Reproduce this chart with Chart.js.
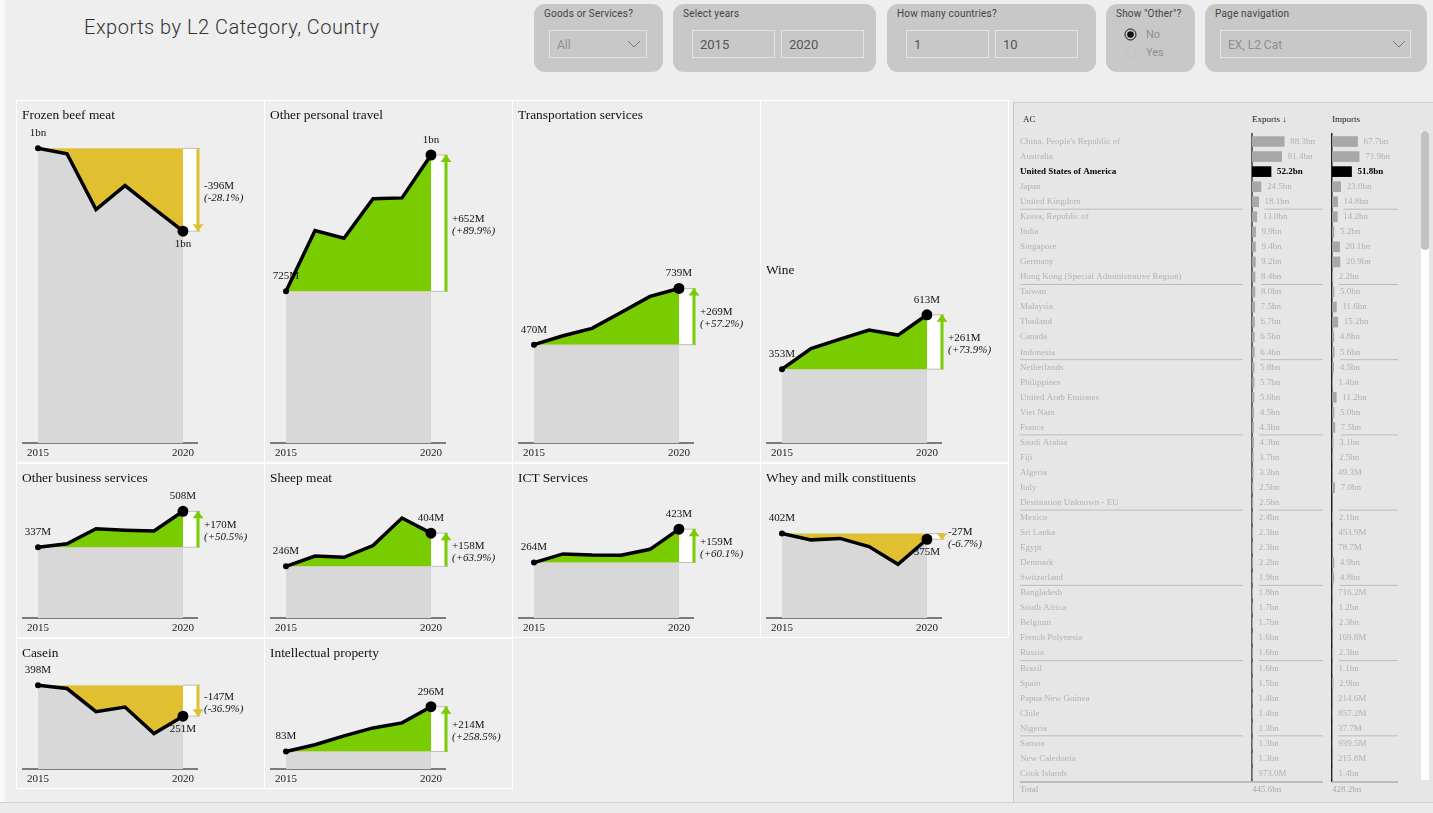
<!DOCTYPE html>
<html>
<head>
<meta charset="utf-8">
<title>Exports by L2 Category, Country</title>
<script src="https://cdn.jsdelivr.net/npm/chart.js@4"></script>
<style>
html, body { margin: 0; padding: 0; }
body { width: 1433px; height: 813px; background: #eeeeee; overflow: hidden; position: relative; font-family: Roboto, sans-serif; }
.abs { position: absolute; }
#leftstrip { left: 0; top: 0; width: 5px; height: 802px; background: #f8f8f8; }
#bottomstrip { left: 0; top: 802px; width: 1433px; height: 11px; background: #ebebeb; border-top: 1px solid #d2d2d2; box-sizing: border-box; }
#title { left: 84px; top: 15px; font-size: 20px; font-weight: 300; color: #333; letter-spacing: 0.5px; white-space: nowrap; }
.slicer { background: #c8c8c8; border-radius: 11px; top: 4px; height: 68px; }
.slabel { top: 8px; font-size: 10px; color: #444; white-space: nowrap; letter-spacing: 0.2px; }
.sinput { top: 30px; height: 28px; box-sizing: border-box; border: 1.5px solid #e4e4e4; font-size: 13px; color: #555; line-height: 28px; padding-left: 7px; }
.dim { color: #8f8f8f; font-size: 12px; }
.ptitle { font-family: "Liberation Serif", serif; font-size: 13.4px; color: #111; white-space: nowrap; }
.panel { border: 1px solid #fff; box-sizing: border-box; }
#tablebox { left: 1013px; top: 102px; width: 420px; height: 700px; background: #e6e6e6; border-left: 1px solid #cacaca; border-top: 1px solid #cacaca; box-sizing: border-box; }
.th { font-family: "Liberation Serif", serif; font-size: 9px; top: 114px; color: #222; white-space: nowrap; }
.tot { font-family: "Liberation Serif", serif; font-size: 9px; top: 784px; color: #aaa; white-space: nowrap; }
canvas { position: absolute; }
</style>
</head>
<body>
<div class="abs" id="leftstrip"></div>
<div class="abs" id="bottomstrip"></div>
<div class="abs" id="title">Exports by L2 Category, Country</div>

<div class="abs slicer" style="left:534px;width:129px"></div>
<div class="abs slabel" style="left:544px">Goods or Services?</div>
<div class="abs sinput dim" style="left:549px;width:98px">All</div>
<svg class="abs" style="left:627px;top:40px" width="14" height="9"><polyline points="1,1 7,7 13,1" fill="none" stroke="#777"/></svg>

<div class="abs slicer" style="left:673px;width:203px"></div>
<div class="abs slabel" style="left:683px">Select years</div>
<div class="abs sinput" style="left:692px;width:83px">2015</div>
<div class="abs sinput" style="left:781px;width:83px">2020</div>

<div class="abs slicer" style="left:887px;width:209px"></div>
<div class="abs slabel" style="left:897px">How many countries?</div>
<div class="abs sinput" style="left:906px;width:83px">1</div>
<div class="abs sinput" style="left:995px;width:83px">10</div>

<div class="abs slicer" style="left:1106px;width:89px"></div>
<div class="abs slabel" style="left:1116px">Show "Other"?</div>
<svg class="abs" style="left:1123px;top:27px" width="15" height="32"><circle cx="7.5" cy="7.5" r="5.5" fill="none" stroke="#111"/><circle cx="7.5" cy="7.5" r="3.3" fill="#111"/><circle cx="7.5" cy="25" r="5.5" fill="none" stroke="#c2c2c2"/></svg>
<div class="abs dim" style="left:1146px;top:28px;font-size:11px">No</div>
<div class="abs dim" style="left:1146px;top:46px;font-size:11px">Yes</div>

<div class="abs slicer" style="left:1205px;width:222px"></div>
<div class="abs slabel" style="left:1215px">Page navigation</div>
<div class="abs sinput dim" style="left:1220px;width:191px">EX, L2 Cat</div>
<svg class="abs" style="left:1392px;top:40px" width="14" height="9"><polyline points="1,1 7,7 13,1" fill="none" stroke="#777"/></svg>

<div class="abs" id="panels"></div>

<div class="abs" id="tablebox"></div>
<div class="abs" style="left:1421px;top:131px;width:8px;height:649px;background:#fff"></div>
<div class="abs" style="left:1421px;top:131px;width:8px;height:119px;background:#c2c2c2;border-radius:4px"></div>
<div class="abs th" style="left:1023px">AC</div>
<div class="abs th" style="left:1252px">Exports ↓</div>
<div class="abs th" style="left:1332px">Imports</div>
<canvas id="exportsChart" width="310" height="659" style="left:1020px;top:127.5px"></canvas>
<canvas id="importsChart" width="90" height="659" style="left:1325px;top:127.5px"></canvas>
<div class="abs tot" style="left:1020px">Total</div>
<div class="abs tot" style="left:1252px">445.6bn</div>
<div class="abs tot" style="left:1332px">428.2bn</div>

<script>
const years = ["2015", "2016", "2017", "2018", "2019", "2020"]

const categories = ["Frozen beef meat", "Other personal travel", "Transportation services", "Wine",
    "Other business services", "Sheep meat", "ICT Services", "Whey and milk constituents",
    "Casein", "Intellectual property"]

// values in millions
const frozenBeef = [1409, 1383, 1116, 1231, 1121, 1013]
const personalTravel = [725, 1016, 979, 1168, 1172, 1377]
const transportation = [470, 513, 548, 624, 701, 739]
const wine = [353, 452, 497, 540, 516, 613]
const businessServices = [337, 353, 425, 418, 414, 508]
const sheepMeat = [246, 295, 289, 345, 476, 404]
const ictServices = [264, 305, 300, 299, 327, 423]
const wheyMilk = [402, 372, 379, 340, 256, 375]
const casein = [398, 382, 272, 294, 168, 251]
const intellectualProperty = [83, 115, 157, 195, 219, 296]
const series = [frozenBeef, personalTravel, transportation, wine, businessServices, sheepMeat, ictServices, wheyMilk, casein, intellectualProperty]

const startLabels = ["1bn", "725M", "470M", "353M", "337M", "246M", "264M", "402M", "398M", "83M"]
const endLabels = ["1bn", "1bn", "739M", "613M", "508M", "404M", "423M", "375M", "251M", "296M"]
const deltaLabels = ["-396M", "+652M", "+269M", "+261M", "+170M", "+158M", "+159M", "-27M", "-147M", "+214M"]
const pctLabels = ["(-28.1%)", "(+89.9%)", "(+57.2%)", "(+73.9%)", "(+50.5%)", "(+63.9%)", "(+60.1%)", "(-6.7%)", "(-36.9%)", "(+258.5%)"]

const countries = ["China, People's Republic of", "Australia", "United States of America", "Japan", "United Kingdom",
    "Korea, Republic of", "India", "Singapore", "Germany", "Hong Kong (Special Administrative Region)",
    "Taiwan", "Malaysia", "Thailand", "Canada", "Indonesia",
    "Netherlands", "Philippines", "United Arab Emirates", "Viet Nam", "France",
    "Saudi Arabia", "Fiji", "Algeria", "Italy", "Destination Unknown - EU",
    "Mexico", "Sri Lanka", "Egypt", "Denmark", "Switzerland",
    "Bangladesh", "South Africa", "Belgium", "French Polynesia", "Russia",
    "Brazil", "Spain", "Papua New Guinea", "Chile", "Nigeria",
    "Samoa", "New Caledonia", "Cook Islands"]
// billions
const exportsBn = [88.3, 81.4, 52.2, 24.5, 18.1, 13.0, 9.9, 9.4, 9.2, 8.4, 8.0, 7.5, 6.7, 6.5, 6.4, 5.8, 5.7, 5.6, 4.5, 4.3, 4.3, 3.7, 3.3, 2.5, 2.5, 2.4, 2.3, 2.3, 2.2, 1.9, 1.8, 1.7, 1.7, 1.6, 1.6, 1.6, 1.5, 1.4, 1.4, 1.3, 1.3, 1.3, 0.973]
const importsBn = [67.7, 71.9, 51.8, 23.0, 14.8, 14.2, 5.2, 20.1, 20.9, 2.2, 5.0, 11.6, 15.2, 4.8, 5.6, 4.5, 1.4, 11.2, 5.0, 7.5, 3.1, 2.5, 0.0493, 7.0, null, 2.1, 0.4539, 0.0787, 4.9, 4.8, 0.7162, 1.2, 2.3, 0.1698, 2.3, 1.1, 2.9, 0.2146, 0.8572, 0.0377, 0.9395, 0.2158, 1.4]
const exportTexts = ["88.3bn", "81.4bn", "52.2bn", "24.5bn", "18.1bn", "13.0bn", "9.9bn", "9.4bn", "9.2bn", "8.4bn", "8.0bn", "7.5bn", "6.7bn", "6.5bn", "6.4bn", "5.8bn", "5.7bn", "5.6bn", "4.5bn", "4.3bn", "4.3bn", "3.7bn", "3.3bn", "2.5bn", "2.5bn", "2.4bn", "2.3bn", "2.3bn", "2.2bn", "1.9bn", "1.8bn", "1.7bn", "1.7bn", "1.6bn", "1.6bn", "1.6bn", "1.5bn", "1.4bn", "1.4bn", "1.3bn", "1.3bn", "1.3bn", "973.0M"]
const importTexts = ["67.7bn", "71.9bn", "51.8bn", "23.0bn", "14.8bn", "14.2bn", "5.2bn", "20.1bn", "20.9bn", "2.2bn", "5.0bn", "11.6bn", "15.2bn", "4.8bn", "5.6bn", "4.5bn", "1.4bn", "11.2bn", "5.0bn", "7.5bn", "3.1bn", "2.5bn", "49.3M", "7.0bn", "", "2.1bn", "453.9M", "78.7M", "4.9bn", "4.8bn", "716.2M", "1.2bn", "2.3bn", "169.8M", "2.3bn", "1.1bn", "2.9bn", "214.6M", "857.2M", "37.7M", "939.5M", "215.8M", "1.4bn"]

const GREEN = "#78cc00", YELLOW = "#e0c030", GREY = "#d8d8d8"
const SERIF = "'Liberation Serif', serif"

// page layout of the small multiples
const colLefts = [16, 264, 512, 760]
const rowTops = [100, 463, 638]
const rowHeights = [363, 175, 151]
const rowMax = [1640, 738, 622] // same px per million in every row
const panelWidth = 249
const axisHeight = 20

const panelsDiv = document.querySelector("#panels")

function text(ctx, str, x, y, align, font, color){
    ctx.font = font
    ctx.fillStyle = color
    ctx.textAlign = align
    ctx.textBaseline = "middle"
    ctx.fillText(str, x, y)
}

function addPanel(i, left, top, width, height, row){
    const box = document.createElement("div")
    box.className = "abs panel"
    box.style.cssText = `left:${left}px;top:${top}px;width:${width}px;height:${height}px`
    document.body.insertBefore(box, panelsDiv)

    const cv = document.createElement("canvas")
    cv.width = width
    cv.height = height
    cv.style.cssText = `left:${left}px;top:${top}px`
    document.body.insertBefore(cv, panelsDiv)

    const t = document.createElement("div")
    t.className = "abs ptitle"
    t.textContent = categories[i]
    // Wine's title sits just above its plot, not at the top of the panel
    const titleTop = categories[i] === "Wine" ? top + 162 : top + 7
    t.style.cssText = `left:${left + 6}px;top:${titleTop}px`
    document.body.insertBefore(t, panelsDiv)

    const values = series[i]
    const first = values[0], last = values[values.length - 1]
    const up = last >= first

    const deltaPlugin = {
        id: "delta",
        beforeDatasetsDraw(chart){
            const {ctx, chartArea: a, scales: {x, y}} = chart
            const xEnd = x.getPixelForValue(5)
            const y0 = y.getPixelForValue(first), y1 = y.getPixelForValue(last)
            ctx.save()
            ctx.fillStyle = "#fff"
            ctx.fillRect(xEnd, Math.min(y0, y1), 14, Math.abs(y1 - y0))
            ctx.strokeStyle = "#bdbdbd"
            ctx.lineWidth = 1
            ctx.beginPath()
            ctx.moveTo(xEnd, y0); ctx.lineTo(xEnd + 17, y0)
            ctx.moveTo(xEnd, y1); ctx.lineTo(xEnd + 17, y1)
            ctx.stroke()
            // base line runs past the plot on both sides
            ctx.strokeStyle = "#555"
            ctx.lineWidth = 1.5
            ctx.beginPath()
            ctx.moveTo(a.left - 16, a.bottom); ctx.lineTo(a.right + 15, a.bottom)
            ctx.stroke()
            ctx.restore()
        },
        // labels go over the fills but under the black line
        afterDatasetDraw(chart, args){
            if(args.index !== 1) return
            const {ctx, scales: {x, y}} = chart
            const xStart = x.getPixelForValue(0), xEnd = x.getPixelForValue(5)
            const y0 = y.getPixelForValue(first), y1 = y.getPixelForValue(last)
            const font = `11px ${SERIF}`
            ctx.save()
            text(ctx, startLabels[i], xStart, y0 - 15, "center", font, "#111")
            text(ctx, endLabels[i], xEnd, up ? y1 - 15 : y1 + 13, "center", font, "#111")

            const ax = xEnd + 15, color = up ? GREEN : YELLOW
            const head = Math.min(7, Math.abs(y1 - y0))
            const dir = up ? 1 : -1
            ctx.fillStyle = color
            ctx.fillRect(ax - 1.5, Math.min(y0, y1), 3, Math.abs(y1 - y0))
            ctx.beginPath()
            ctx.moveTo(ax, y1)
            ctx.lineTo(ax - 5.5, y1 + dir * head)
            ctx.lineTo(ax + 5.5, y1 + dir * head)
            ctx.closePath()
            ctx.fill()

            const mid = (y0 + y1) / 2
            text(ctx, deltaLabels[i], ax + 6, mid - 4, "left", font, "#111")
            text(ctx, pctLabels[i], ax + 6, mid + 8, "left", `italic ${font}`, "#111")
            ctx.restore()
        }
    }

    new Chart(cv, {
        type: "line",
        data: {
            labels: years,
            datasets: [
                {data: values, borderColor: "#000", borderWidth: 3.5, tension: 0, fill: false,
                    pointRadius: [3, 0, 0, 0, 0, 5.5], pointBackgroundColor: "#000", pointBorderWidth: 0, borderJoinStyle: "miter"},
                {data: values, borderWidth: 0, pointRadius: 0, tension: 0,
                    fill: {target: {value: first}, above: GREEN, below: YELLOW}},
                {data: values, borderWidth: 0, pointRadius: 0, tension: 0, fill: {target: "origin", above: GREY}}
            ]
        },
        options: {
            responsive: false,
            animation: false,
            events: [],
            layout: {autoPadding: false, padding: {left: 22, right: width - 22 - 145, top: 0, bottom: 0}},
            plugins: {legend: {display: false}, tooltip: {enabled: false}},
            scales: {
                x: {
                    type: "category",
                    offset: false,
                    grid: {display: false, drawTicks: false},
                    border: {display: false},
                    afterFit: s => { s.height = axisHeight },
                    ticks: {
                        autoSkip: false, maxRotation: 0, minRotation: 0, padding: 4, color: "#222",
                        font: {family: SERIF, size: 11},
                        callback: (v, idx) => (idx === 0 || idx === 5) ? years[idx] : ""
                    }
                },
                y: {display: false, min: 0, max: rowMax[row]}
            }
        },
        plugins: [deltaPlugin]
    })
}

categories.forEach((c, i) => {
    const row = i < 4 ? 0 : i < 8 ? 1 : 2
    const col = row < 2 ? i % 4 : i - 8
    addPanel(i, colLefts[col], rowTops[row], panelWidth, rowHeights[row], row)
})

function barTable(id, values, texts, opts){
    const usa = countries.indexOf("United States of America")
    const rowLines = {
        id: "rowLines",
        afterDatasetsDraw(chart){
            const {ctx, chartArea: a, scales: {x, y}} = chart
            ctx.save()
            values.forEach((v, i) => {
                const px = x.getPixelForValue(v || 0)
                const cy = y.getPixelForValue(i)
                const isUsa = i === usa
                if(texts[i]) text(ctx, texts[i], px + 6, cy, "left", `${isUsa ? "bold " : ""}9px ${SERIF}`, isUsa ? "#000" : "#b0b0b0")
                if((i + 1) % 5 === 0 || i === values.length - 1){
                    const end = i === values.length - 1
                    const ly = cy + 7.5 + (end ? 1 : 0)
                    ctx.strokeStyle = "#bcbcbc"
                    ctx.lineWidth = end ? 2 : 1
                    ctx.beginPath()
                    ctx.moveTo(end ? a.left - opts.totalInset : px + 6, ly)
                    ctx.lineTo(opts.lineEnd, ly)
                    if(opts.names){
                        ctx.moveTo(0, ly)
                        ctx.lineTo(a.left - 9, ly)
                    }
                    ctx.stroke()
                }
            })
            ctx.restore()
        }
    }
    new Chart(document.querySelector("#" + id), {
        type: "bar",
        data: {
            labels: countries,
            datasets: [{
                data: values,
                barThickness: 10,
                backgroundColor: countries.map((c, i) => i === usa ? "#000" : "#a8a8a8")
            }]
        },
        options: {
            indexAxis: "y",
            responsive: false,
            animation: false,
            events: [],
            // the padding has to cover half a tick label or the exports rows shift
            layout: {autoPadding: false, padding: {top: 6, bottom: 6}},
            plugins: {legend: {display: false}, tooltip: {enabled: false}},
            scales: {
                x: {display: false, min: 0, max: opts.max},
                y: {
                    grid: {display: false},
                    border: {display: true, color: opts.axisColor, width: opts.axisWidth},
                    afterFit: s => { s.width = opts.axisLeft },
                    ticks: {
                        autoSkip: false, crossAlign: "far", padding: 0,
                        display: opts.names,
                        font: c => ({family: SERIF, size: 9, weight: c.index === usa ? "bold" : "normal"}),
                        color: c => c.index === usa ? "#000" : "#b3b3b3"
                    }
                }
            }
        },
        plugins: [rowLines]
    })
}

barTable("exportsChart", exportsBn, exportTexts, {names: true, max: 214, axisLeft: 232, axisColor: "#666", axisWidth: 2, lineEnd: 303, totalInset: 10})
barTable("importsChart", importsBn, importTexts, {names: false, max: 220, axisLeft: 7, axisColor: "#222", axisWidth: 1.5, lineEnd: 73, totalInset: 0})
</script>
</body>
</html>
